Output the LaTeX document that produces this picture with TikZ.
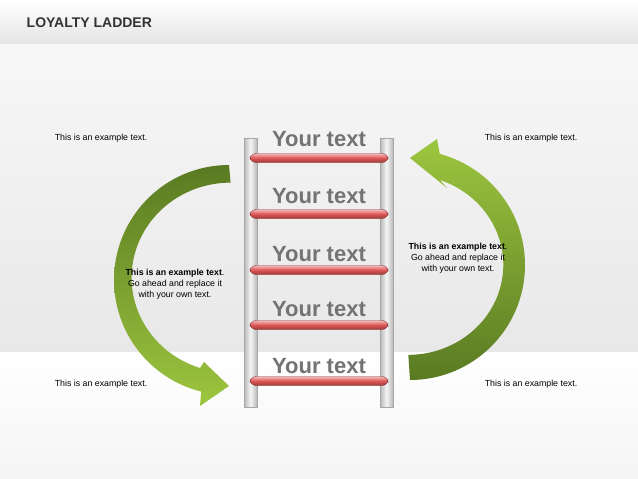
\documentclass[tikz,border=0pt]{standalone}
\usepackage{fontspec}
\setmainfont{Liberation Sans}
\definecolor{dg}{HTML}{5A7A22}
\definecolor{lg}{HTML}{9DC63F}
\definecolor{rd}{HTML}{DD5555}
\begin{document}
\begin{tikzpicture}[x=0.75pt,y=0.75pt,
  rail/.style={shading=axis,left color=gray!55,right color=gray!55,middle color=gray!8,shading angle=90,draw=gray!70,line width=0.5pt},
  rung/.style={top color=rd!40!white,bottom color=rd!70!black,middle color=rd,draw=rd!60!black,line width=0.3pt,rounded corners=4.5pt},
  yt/.style={font=\bfseries\fontsize{16.5}{18}\selectfont,text=gray!90!black},
  small/.style={font=\fontsize{6.6}{8.2}\selectfont,align=center,text=black},
  arr/.style={draw=none}]
\useasboundingbox (0,0) rectangle (638,-478);
% backgrounds
\fill[top color=white,bottom color=gray!22] (0,0) rectangle (638,-45);
\fill[top color=gray!6,bottom color=gray!18] (0,-45) rectangle (638,-352);
\fill[top color=white,bottom color=gray!8] (0,-352) rectangle (638,-478);
\node[anchor=west,font=\bfseries\fontsize{10.5}{12}\selectfont,text=gray!40!black] (title) at (22,-23) {LOYALTY LADDER};
% rails
\node[rail,minimum width=9.75pt,minimum height=202pt,inner sep=0pt] (lr) at (250.5,-273) {};
\node[rail,minimum width=9.75pt,minimum height=202pt,inner sep=0pt] (rr) at (386.5,-273) {};
% rungs
\foreach \y/\n in {158/1,214/2,270/3,325/4,381/5}{
  \node[rung,minimum width=103.5pt,minimum height=6.75pt,inner sep=0pt] (r\n) at (319,-\y) {};
}
\foreach \y/\n in {139/1,196/2,254/3,309/4,366/5}{
  \node[yt] (t\n) at (319,-\y) {Your text};
}
% left arrow
\path[arr,top color=dg,bottom color=lg]
  (229,-165) arc[start angle=90,end angle=256,radius=115] -- (200,-406) -- (229,-386) -- (204,-362) -- (200,-368)
  arc[start angle=252,end angle=90,x radius=99,y radius=95] -- cycle;
% right arrow
\path[arr,bottom color=dg,top color=lg]
  (410,-380) arc[start angle=-90,end angle=75,radius=115] -- (437,-139) -- (410,-158) -- (447,-188) -- (440,-180)
  arc[start angle=70.5,end angle=-90,x radius=95,y radius=90] -- cycle;
% texts
\node[small] (a1) at (101,-138) {This is an example text.};
\node[small] (a2) at (531,-138) {This is an example text.};
\node[small] (a3) at (101,-384) {This is an example text.};
\node[small] (a4) at (531,-384) {This is an example text.};
\node[small] (b1) at (175,-284) {\textbf{This is an example text}.\\Go ahead and replace it\\with your own text.};
\node[small] (b2) at (458,-258) {\textbf{This is an example text}.\\Go ahead and replace it\\with your own text.};
\end{tikzpicture}
\end{document}
